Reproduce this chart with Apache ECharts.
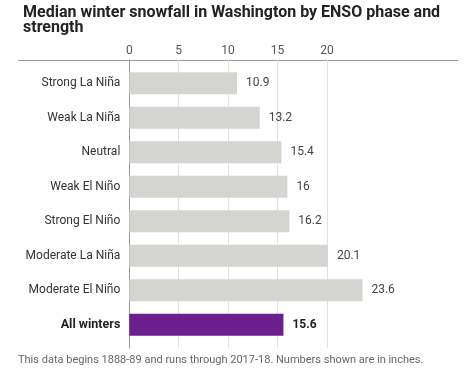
<!DOCTYPE html>
<html>
<head>
<meta charset="utf-8">
<script src="https://cdn.jsdelivr.net/npm/echarts@6/dist/echarts.min.js"></script>
<style>
  html, body { margin: 0; padding: 0; background: #fff; }
  #chart { width: 474px; height: 377px; }
</style>
</head>
<body>
<div id="chart"></div>
<script>
// 分类和数值
var categories = ['Strong La Niña', 'Weak La Niña', 'Neutral', 'Weak El Niño', 'Strong El Niño', 'Moderate La Niña', 'Moderate El Niño', 'All winters']
var snowfall = [10.9, 13.2, 15.4, 16, 16.2, 20.1, 23.6, 15.6]
var tickValues = [0, 5, 10, 15, 20]
var highlightName = 'All winters'

var FONT = 'Roboto, "Liberation Sans", sans-serif'
var PX = 9.88 // 每单位像素

var chart = echarts.init(document.getElementById('chart'), null, { renderer: 'canvas' })

var barData = snowfall.map(function (v, i) {
  var hi = categories[i] === highlightName
  return {
    value: v,
    itemStyle: { color: hi ? '#6a1f8c' : '#d4d4d0' },
    label: hi ? { fontWeight: 'bold', color: '#222' } : {}
  }
})

var option = {
  animation: false,
  title: {
    text: 'Median winter snowfall in Washington by ENSO phase and\nstrength',
    left: 18,
    top: 1,
    textStyle: { fontFamily: FONT, fontSize: 16, fontWeight: 'bold', color: '#222', lineHeight: 14.5 }
  },
  grid: [
    // 背景网格（刻度 0-20）
    { left: 129.3, top: 60, width: 20 * PX, height: 288 },
    // 柱状图
    { left: 129.3, top: 66, width: 30 * PX, height: 276 }
  ],
  xAxis: [
    {
      gridIndex: 0,
      type: 'value',
      position: 'top',
      min: tickValues[0],
      max: tickValues[tickValues.length - 1],
      interval: 5,
      axisLine: { show: false },
      axisTick: { show: false },
      axisLabel: { color: '#555', fontFamily: FONT, fontSize: 12, margin: 3 },
      splitLine: { show: true, lineStyle: { color: '#e2e2e2', width: 1 } }
    },
    {
      gridIndex: 1,
      type: 'value',
      min: 0,
      max: 30,
      show: false
    }
  ],
  yAxis: [
    {
      gridIndex: 0,
      type: 'value',
      min: 0,
      max: 1,
      axisLine: { show: true, lineStyle: { color: '#999', width: 1 } },
      axisTick: { show: false },
      axisLabel: { show: false },
      splitLine: { show: false }
    },
    {
      gridIndex: 1,
      type: 'category',
      inverse: true,
      data: categories,
      axisLine: { show: false },
      axisTick: { show: false },
      axisLabel: {
        margin: 9,
        fontFamily: FONT,
        fontSize: 12,
        color: '#333',
        formatter: function (v) {
          return v === highlightName ? '{b|' + v + '}' : v
        },
        rich: { b: { fontWeight: 'bold', fontFamily: FONT, fontSize: 12.5, color: '#222' } }
      }
    }
  ],
  series: [
    {
      type: 'bar',
      xAxisIndex: 1,
      yAxisIndex: 1,
      barWidth: 22,
      data: barData,
      label: {
        show: true,
        position: 'right',
        distance: 9,
        fontFamily: FONT,
        fontSize: 12,
        color: '#444'
      }
    }
  ],
  graphic: [
    // 顶部横线
    { type: 'line', shape: { x1: 18, y1: 60.5, x2: 458, y2: 60.5 }, style: { stroke: '#999', lineWidth: 1 } },
    {
      type: 'text',
      left: 18,
      top: 355,
      style: {
        text: 'This data begins 1888-89 and runs through 2017-18. Numbers shown are in inches.',
        fontFamily: FONT,
        fontSize: 11,
        fill: '#666'
      }
    }
  ]
}

chart.setOption(option)
</script>
</body>
</html>
